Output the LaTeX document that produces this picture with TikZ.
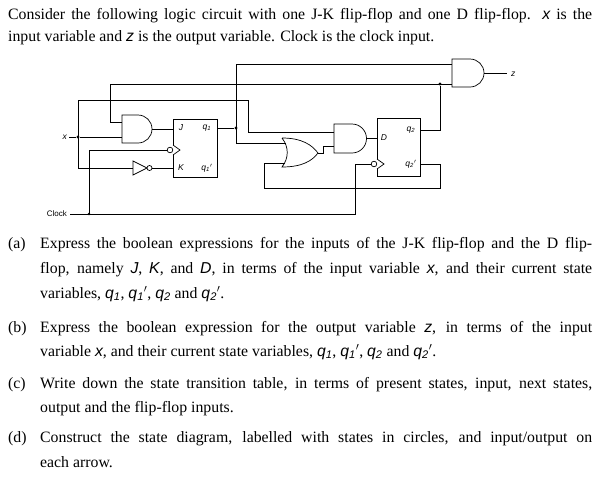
\documentclass[tikz,border=0pt]{standalone}
\usepackage{fontspec}
\setmainfont{Liberation Serif}
\newfontfamily\arl{Liberation Sans}
\newcommand{\vv}[1]{{\arl\itshape #1}}
\begin{document}
\begin{tikzpicture}[x=1pt,y=-1pt,
  wire/.style={line width=0.6pt},
  gate/.style={line width=0.7pt,fill=white},
  lbl/.style={font=\arl\itshape\fontsize{8.5}{9}\selectfont,inner sep=0pt},
  txt/.style={anchor=base west,inner sep=0pt,font=\fontsize{15.8}{18}\selectfont},
  dotc/.style={circle,fill,inner sep=0pt,minimum size=3.2pt}]
\useasboundingbox (0,0) rectangle (600,485);
% header
\node[txt] (h1) at (8,19) {\makebox[584pt][s]{Consider the following logic circuit with one J-K flip-flop and one D flip-flop. \vv{x} is the}};
\node[txt] (h2) at (8,41) {input variable and \vv{z} is the output variable. Clock is the clock input.};
% questions
\node[txt] (qa) at (8,248) {(a)};
\node[txt] (a1) at (40,248) {\makebox[552pt][s]{Express the boolean expressions for the inputs of the J-K flip-flop and the D flip-}};
\node[txt] (a2) at (40,273) {\makebox[552pt][s]{flop, namely \vv{J}, \vv{K}, and \vv{D}, in terms of the input variable \vv{x}, and their current state}};
\node[txt] (a3) at (40,298) {variables, \vv{q\textsubscript{1}}, \vv{q\textsubscript{1}$'$}, \vv{q\textsubscript{2}} and \vv{q\textsubscript{2}$'$}.};
\node[txt] (qb) at (8,332) {(b)};
\node[txt] (b1) at (40,332) {\makebox[552pt][s]{Express the boolean expression for the output variable \vv{z}, in terms of the input}};
\node[txt] (b2) at (40,356) {variable \vv{x}, and their current state variables, \vv{q\textsubscript{1}}, \vv{q\textsubscript{1}$'$}, \vv{q\textsubscript{2}} and \vv{q\textsubscript{2}$'$}.};
\node[txt] (qc) at (8,388) {(c)};
\node[txt] (c1) at (40,388) {\makebox[552pt][s]{Write down the state transition table, in terms of present states, input, next states,}};
\node[txt] (c2) at (40,412) {output and the flip-flop inputs.};
\node[txt] (qd) at (8,442) {(d)};
\node[txt] (d1) at (40,442) {\makebox[552pt][s]{Construct the state diagram, labelled with states in circles, and input/output on}};
\node[txt] (d2) at (40,467) {each arrow.};

% ---- circuit ----
\node[lbl,anchor=east] (xl) at (67,137) {x};
\node[lbl,font=\arl\fontsize{8}{9}\selectfont,anchor=east] (ck) at (67,214) {Clock};
\node[lbl,anchor=west] (zl) at (511,74) {z};
% gates
\draw[gate] (122,115) -- (138,115) arc(-90:90:14) -- (122,143) -- cycle; % AND1
\draw[gate] (334,124) -- (352,124) arc(-90:90:14.5) -- (334,153) -- cycle; % AND2
\draw[gate] (452,59) -- (470,59) arc(-90:90:14) -- (452,87) -- cycle; % AND3
\draw[gate] (282,138) .. controls (302,138) and (312,145) .. (318,153) .. controls (312,161) and (302,167) .. (282,167) .. controls (289,158) and (289,147) .. (282,138); % OR
\draw[gate] (133,161) -- (147,168) -- (133,175) -- cycle;
\draw[gate] (149.5,168) circle (2.5);
% flip-flops
\draw[gate] (173,119) rectangle (217,177);
\draw[gate] (173,145) -- (180,150) -- (173,155);
\draw[gate] (170,150) circle (2.8);
\draw[gate] (377,118) rectangle (420,176);
\draw[gate] (377,159) -- (384,164) -- (377,169);
\draw[gate] (374,164) circle (2.8);
\node[lbl] (J) at (181,128) {J};
\node[lbl] (K) at (181,168) {K};
\node[lbl] (q1) at (207,128) {q\textsubscript{1}};
\node[lbl] (q1n) at (207,168) {q\textsubscript{1}$'$};
\node[lbl] (D) at (384,138) {D};
\node[lbl] (q2) at (411,130) {q\textsubscript{2}};
\node[lbl] (q2n) at (411,164) {q\textsubscript{2}$'$};
% junction dots
\node[dotc] (dx) at (78,137) {};
\node[dotc] (dq1) at (236,128) {};
\node[dotc] (dq2) at (440,84) {};
\node[dotc,minimum size=2.6pt] (dck) at (89,214) {};
% wires
\draw[wire] (xl.east) ++(2,0) -- (dx) -- (122,137);
\draw[wire] (78,100) -- (78,168) -- (133,168);
\draw[wire] (78,100) -- (248,100) -- (248,132) -- (334,132);
\draw[wire] (110,122) -- (122,122);
\draw[wire] (110,122) -- (110,84) -- (452,84);
\draw[wire] (152,129) -- (173,129);
\draw[wire] (152.3,168) -- (173,168);
\draw[wire] (217,128) -- (dq1);
\draw[wire] (236,143) -- (236,64) -- (452,64);
\draw[wire] (236,143) -- (286,143);
\draw[wire] (285,163) -- (264,163) -- (264,188) -- (440,188) -- (440,164) -- (420,164);
\draw[wire] (318,153) -- (323,153) -- (323,146) -- (334,146);
\draw[wire] (366.5,138.5) -- (377,138.5);
\draw[wire] (420,130) -- (440,130) -- (dq2);
\draw[wire] (484,73) -- (507,73);
\draw[wire] (ck.east) ++(3,0) -- (355,214) -- (355,164) -- (371.2,164);
\draw[wire] (89,214) -- (89,150) -- (167.2,150);
\end{tikzpicture}
\end{document}
